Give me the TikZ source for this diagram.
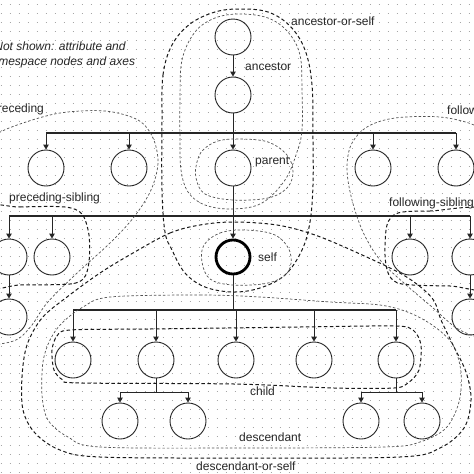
\documentclass[tikz,border=0pt]{standalone}
\usepackage{fontspec}
\setmainfont{Liberation Sans}
\usetikzlibrary{arrows.meta}
\begin{document}
\begin{tikzpicture}[x=1pt,y=-1pt,
  font=\fontsize{12}{15}\selectfont,
  nd/.style={circle,draw=black!85,line width=0.9pt,minimum size=36pt,inner sep=0pt},
  selfnd/.style={circle,draw=black,line width=2.8pt,minimum size=34pt,inner sep=0pt},
  conn/.style={draw=black!85,line width=0.9pt},
  bar/.style={draw=black!85,line width=1.2pt},
  arr/.style={draw=black!85,line width=0.9pt,-{Triangle[length=5pt,width=5.5pt]}},
  fine/.style={draw=black!68,line width=0.7pt,dash pattern=on 2.5pt off 2pt},
  bold/.style={draw=black!90,line width=1pt,dash pattern=on 3.5pt off 2.5pt},
  lbl/.style={anchor=west,inner sep=0pt,text=black!85},
  griddot/.style={draw=black!35,line width=0.8pt,dash pattern=on 0.8pt off 8.2pt}]
\useasboundingbox (0,0) rectangle (474,474);
\clip (0,0) rectangle (474,474);
\fill[white] (0,0) rectangle (474,474);
% background dot grid
\foreach \yy in {4,13,...,472} {\draw[griddot] (0.5,\yy) -- (474,\yy);}

% nodes
\node[nd] (n1) at (233,37) {};
\node[nd] (n2) at (233,95) {};
\node[nd] (r2a) at (46,168) {};
\node[nd] (r2b) at (129,168) {};
\node[nd] (par) at (233,168) {};
\node[nd] (r2d) at (373,168) {};
\node[nd] (r2e) at (456,168) {};
\node[nd] (ps1) at (9,257) {};
\node[nd] (ps2) at (52,257) {};
\node[selfnd] (self) at (233,257) {};
\node[nd] (fs1) at (410,257) {};
\node[nd] (fs2) at (470,257) {};
\node[nd] (ll) at (9,317) {};
\node[nd] (lr) at (470,317) {};
\node[nd] (c1) at (73,360) {};
\node[nd] (c2) at (156,360) {};
\node[nd] (c3) at (236,360) {};
\node[nd] (c4) at (314,360) {};
\node[nd] (c5) at (396,360) {};
\node[nd] (g1) at (120,421) {};
\node[nd] (g2) at (188,421) {};
\node[nd] (g3) at (361,421) {};
\node[nd] (g4) at (422,421) {};

% bar coordinates
\coordinate (b1L) at (46,133);  \coordinate (b1R) at (456,133);
\coordinate (b2L) at (9,216);   \coordinate (b2R) at (470,216);
\coordinate (b3L) at (73,310);  \coordinate (b3R) at (396,310);
\coordinate (b4L) at (120,392); \coordinate (b4R) at (188,392);
\coordinate (b5L) at (361,392); \coordinate (b5R) at (422,392);

% connectors
\draw[arr] (n1) -- (n2);
\draw[conn] (n2) -- (n2 |- b1L);
\draw[bar] (b1L) -- (b1R);
\foreach \t in {r2a,r2b,par,r2d,r2e} {\draw[arr] (\t |- b1L) -- (\t);}
\draw[conn] (par) -- (par |- b2L);
\draw[bar] (b2L) -- (b2R);
\foreach \t in {ps1,ps2,self,fs1,fs2} {\draw[arr] (\t |- b2L) -- (\t);}
\draw[arr] (ps1) -- (ll);
\draw[arr] (fs2) -- (lr);
\draw[conn] (self) -- (self |- b3L);
\draw[bar] (b3L) -- (b3R);
\foreach \t in {c1,c2,c3,c4,c5} {\draw[arr] (\t |- b3L) -- (\t);}
\draw[conn] (c2) -- (c2 |- b4L);
\draw[conn] (b4L) -- (b4R);
\foreach \t in {g1,g2} {\draw[arr] (\t |- b4L) -- (\t);}
\draw[conn] (c5) -- (c5 |- b5L);
\draw[conn] (b5L) -- (b5R);
\foreach \t in {g3,g4} {\draw[arr] (\t |- b5L) -- (\t);}

% axis regions
% ancestor-or-self
\draw[bold] plot[smooth cycle,tension=0.6] coordinates {(162,120) (163,75) (172,45) (190,24) (215,12) (240,9) (268,12) (290,26) (305,50) (312,85) (313,140) (313,185) (310,222) (302,250) (285,275) (260,288) (233,292) (205,287) (185,273) (172,250) (165,232) (162,190)};
% ancestor
\draw[fine] plot[smooth cycle,tension=0.6] coordinates {(180,100) (182,60) (195,32) (215,18) (240,14) (268,18) (288,32) (300,55) (302,90) (302,130) (297,152) (285,180) (262,203) (233,209) (205,205) (188,192) (181,170) (180,140)};
% parent
\draw[fine] plot[smooth cycle,tension=0.6] coordinates {(203,150) (218,141) (240,139) (268,142) (287,155) (293,172) (287,188) (268,198) (233,200) (205,194) (196,178) (197,162)};
% self
\draw[fine] plot[smooth cycle,tension=0.6] coordinates {(204,245) (220,233) (245,230) (275,235) (290,252) (288,272) (268,283) (233,285) (210,279) (202,262)};
% descendant-or-self
\draw[bold] plot[smooth cycle,tension=0.55] coordinates {(133,253) (170,233) (200,225) (233,222) (277,225) (315,235) (360,254) (405,276) (432,298) (441,320) (452,343) (466,372) (471,400) (464,428) (440,448) (400,457) (240,458) (100,457) (60,450) (35,433) (23,410) (22,377) (27,345) (42,318) (67,297) (100,273)};
% descendant
\draw[fine] plot[smooth cycle,tension=0.55] coordinates {(110,297) (200,295) (260,297) (330,302) (380,305) (410,313) (435,327) (453,345) (461,372) (459,402) (446,428) (420,442) (384,447) (240,448) (100,447) (68,437) (48,420) (42,395) (43,362) (50,340) (62,323) (83,307)};
% child
\draw[bold] plot[smooth cycle,tension=0.5] coordinates {(70,330) (150,329) (300,327) (394,326) (413,330) (421,345) (419,370) (408,383) (394,388) (334,388) (234,384) (80,383) (63,380) (54,370) (52,350) (57,336)};
% preceding
\draw[fine] plot[smooth cycle,tension=0.55] coordinates {(-20,150) (-5,135) (20,124) (60,113) (105,111) (138,120) (153,138) (158,163) (151,190) (134,217) (110,243) (76,274) (47,303) (32,325) (18,339) (0,344) (-20,345) (-40,250)};
% following
\draw[fine] plot[smooth cycle,tension=0.55] coordinates {(494,140) (474,125) (440,117) (395,118) (367,127) (351,145) (347,170) (352,200) (363,232) (380,260) (405,284) (432,307) (455,327) (474,336) (494,340) (510,240)};
% preceding-sibling
\draw[bold] plot[smooth cycle,tension=0.5] coordinates {(-20,210) (20,207) (65,207) (82,214) (89,235) (89,262) (84,278) (70,284) (20,285) (-20,285)};
% following-sibling
\draw[bold] plot[smooth cycle,tension=0.5] coordinates {(494,212) (430,211) (398,213) (387,225) (385,255) (389,275) (402,284) (450,286) (494,286)};

% labels
\node[align=center,inner sep=0pt,text=black!85,font=\fontsize{12}{15}\selectfont\itshape] (note) at (60,54.5) {Not shown: attribute and\\namespace nodes and axes};
\node[lbl] (lanc2) at (291,21) {ancestor-or-self};
\node[lbl] (lanc) at (245,67) {ancestor};
\node[lbl] (lprec) at (-9,109) {preceding};
\node[lbl] (lfoll) at (447,111) {following};
\node[lbl] (lpar) at (255,162) {parent};
\node[lbl] (lps) at (9,198) {preceding-sibling};
\node[lbl] (lfs) at (389,203) {following-sibling};
\node[lbl] (lself) at (258,257) {self};
\node[lbl] (lchild) at (250,391) {child};
\node[lbl] (ldesc) at (239,437) {descendant};
\node[lbl] (ldos) at (196,466) {descendant-or-self};
\end{tikzpicture}
\end{document}
